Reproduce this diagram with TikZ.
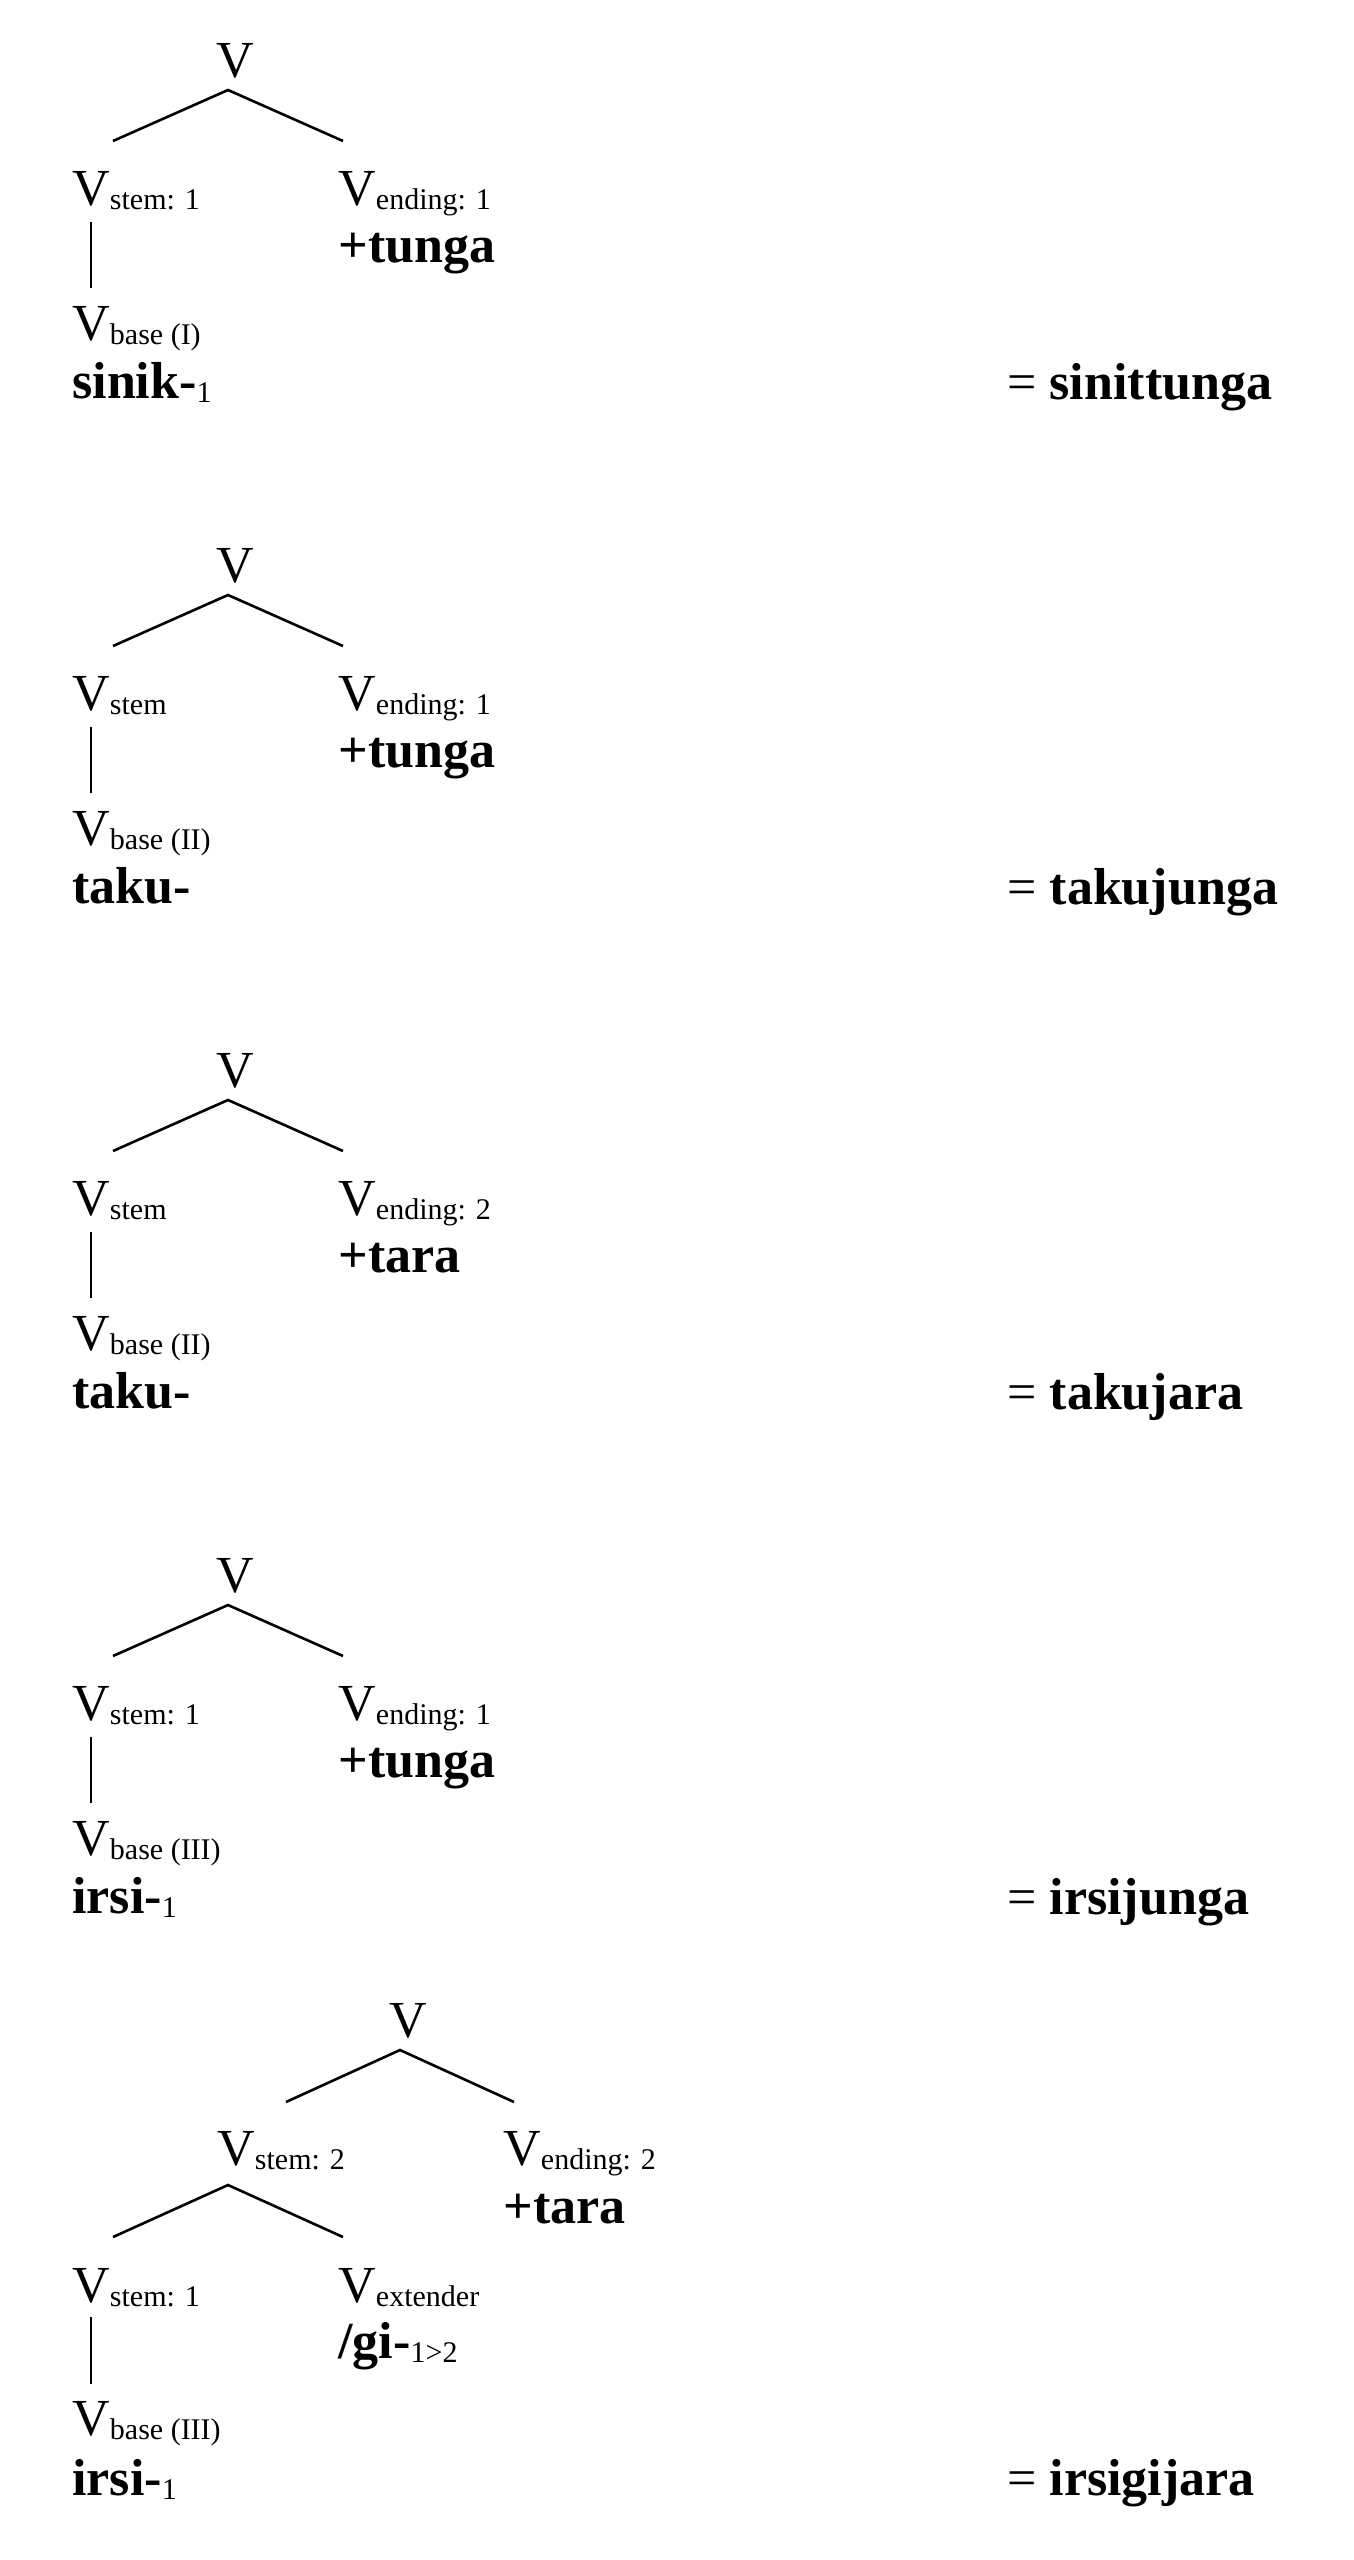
\documentclass[tikz,border=0pt]{standalone}
\usepackage{fontspec}
\setmainfont{Liberation Serif}

% small lowered label after a V or a form
\newcommand{\lowsub}[1]{\raisebox{-2.2pt}{\fontsize{15}{15}\mdseries\selectfont #1}}

\tikzset{
  lbl/.style={anchor=base west, inner sep=0pt},
  form/.style={lbl, font=\fontsize{26}{30}\bfseries\selectfont},
  branch/.style={line width=1.3pt},
  stalk/.style={line width=0.9pt}
}

% one simple tree: name, shift, stem, ending, suffix, base, verb, result
\newcommand{\verbtree}[8]{%
  \begin{scope}[shift={(0,#2)}]
    \node[lbl, anchor=base] (#1-root) at (235,77) {V};
    \coordinate (#1-top) at (228,90);
    \coordinate (#1-left) at (113,141);
    \coordinate (#1-right) at (343,141);
    \node[lbl] (#1-stem) at (72,205) {V\lowsub{#3}};
    \node[lbl] (#1-end) at (338,205) {V\lowsub{#4}};
    \node[form] (#1-suffix) at (338,262) {#5};
    \coordinate (#1-up) at (91,222);
    \coordinate (#1-down) at (91,288);
    \node[lbl] (#1-base) at (72,340) {V\lowsub{#6}};
    \node[form] (#1-verb) at (72,398) {#7};
    \node[lbl] (#1-result) at (1007,399) {= \textbf{#8}};
    \draw[branch] (#1-left) -- (#1-top) -- (#1-right);
    \draw[stalk] (#1-up) -- (#1-down);
  \end{scope}
}

\begin{document}
\begin{tikzpicture}[x=0.5pt, y=-0.5pt, font=\fontsize{26}{30}\selectfont]
  \useasboundingbox (0,0) rectangle (1354,2560);

  \verbtree{sinik}{0}{stem: 1}{ending: 1}{+tunga}{base (I)}{sinik-\lowsub{1}}{sinittunga}
  \verbtree{taku}{505}{stem}{ending: 1}{+tunga}{base (II)}{taku-}{takujunga}
  \verbtree{takura}{1010}{stem}{ending: 2}{+tara}{base (II)}{taku-}{takujara}
  \verbtree{irsi}{1515}{stem: 1}{ending: 1}{+tunga}{base (III)}{irsi-\lowsub{1}}{irsijunga}

  % the last tree has an extender
  \node[lbl, anchor=base] (gi-root) at (408,2037) {V};
  \coordinate (gi-top) at (400,2050);
  \coordinate (gi-left) at (286,2102);
  \coordinate (gi-right) at (514,2102);
  \node[lbl] (gi-stem2) at (217,2165) {V\lowsub{stem: 2}};
  \node[lbl] (gi-end) at (503,2165) {V\lowsub{ending: 2}};
  \node[form] (gi-suffix) at (503,2223) {+tara};
  \coordinate (gi-top2) at (228,2185);
  \coordinate (gi-left2) at (113,2237);
  \coordinate (gi-right2) at (343,2237);
  \node[lbl] (gi-stem1) at (72,2302) {V\lowsub{stem: 1}};
  \node[lbl] (gi-ext) at (338,2302) {V\lowsub{extender}};
  \node[form] (gi-infix) at (338,2358) {/gi-\lowsub{1>2}};
  \coordinate (gi-up) at (91,2317);
  \coordinate (gi-down) at (91,2384);
  \node[lbl] (gi-base) at (72,2435) {V\lowsub{base (III)}};
  \node[form] (gi-verb) at (72,2495) {irsi-\lowsub{1}};
  \node[lbl] (gi-result) at (1007,2495) {= \textbf{irsigijara}};

  \draw[branch] (gi-left) -- (gi-top) -- (gi-right);
  \draw[branch] (gi-left2) -- (gi-top2) -- (gi-right2);
  \draw[stalk] (gi-up) -- (gi-down);
\end{tikzpicture}
\end{document}
